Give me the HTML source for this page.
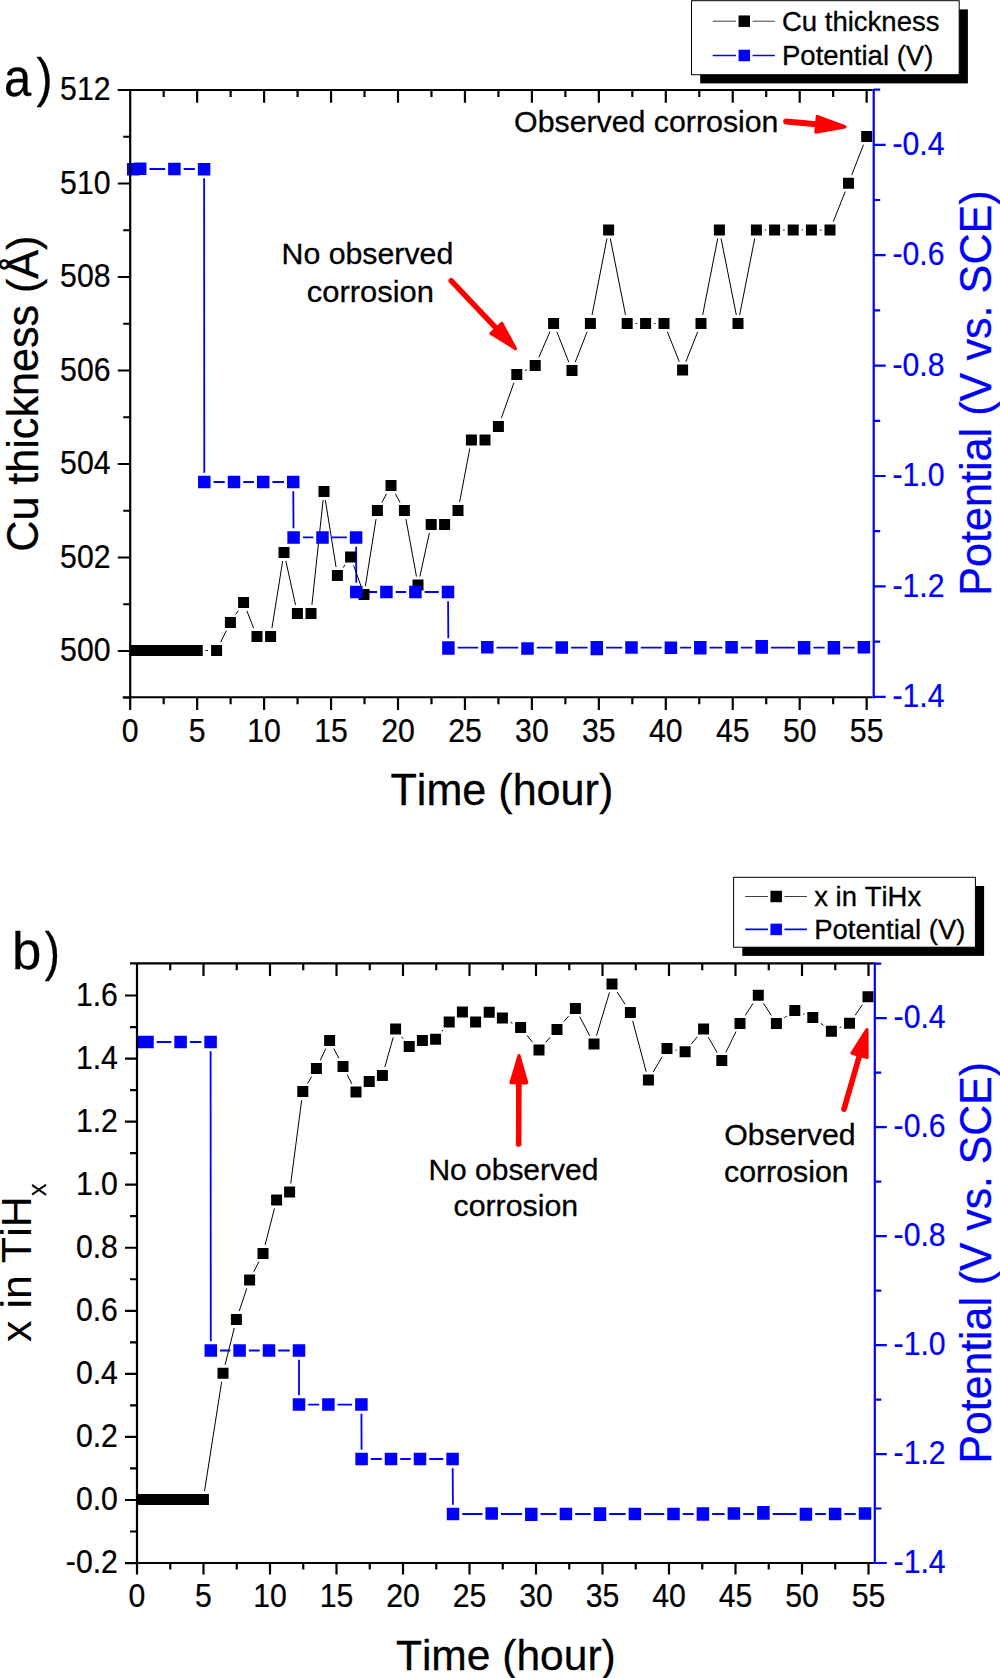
<!DOCTYPE html>
<html><head><meta charset="utf-8"><title>Figure</title>
<style>html,body{margin:0;padding:0;background:#fff;}svg{display:block;}text{font-family:"Liberation Sans", Arial, sans-serif;font-kerning:none;}</style>
</head><body>
<svg width="1000" height="1678" viewBox="0 0 1000 1678">
<rect width="1000" height="1678" fill="#fff"/>
<path d="M149.45 169L165.15 169M183.65 169L194.85 169M204.11 178.25L204.29 472.75M213.55 482L224.75 482M243.25 482L253.95 482M272.45 482L283.95 482M293.27 491.25L293.53 528.15M302.85 537.4L313.25 537.4M331.75 537.4L346.85 537.4M356.13 546.65L356.27 582.75M365.55 592L377.15 592M395.65 592L406.15 592M424.65 592L438.75 592M448.07 601.25L448.33 638.35M457.65 647.6L478.05 647.6M496.55 647.6L518.25 647.6M536.75 647.6L552.55 647.6M571.05 647.6L587.55 647.6M606.05 647.6L622.25 647.6M640.75 647.6L661.65 647.6M680.15 647.6L691.05 647.6M709.55 647.6L722.35 647.6M740.85 647.6L752.45 647.6M770.95 647.6L794.85 647.6M813.35 647.6L824.65 647.6M843.15 647.6L854.65 647.6" stroke="#0000ff" stroke-width="1.8" fill="none"/>
<path d="M205.5 650.46L208.1 650.44M220.64 642.21L226.36 630.59M235.73 614.4L238.27 610.6M246.87 610.89L253.73 628.31M271.95 628.14L282.65 561.06M285.86 561.03L295.54 604.97M311.91 604.92L323.09 500.08M325.35 500.06L336.05 567.14M343.04 567.65L344.96 564.95M353.57 565.33L361.03 586.27M365.35 586.14L376.05 519.06M381.83 502.46L386.57 493.74M395.37 493.74L400.03 502.46M405.94 519.05L416.46 576.55M419.84 576.57L429.36 533.03M459.6 502.15L469.8 448.45M501.36 418.07L513.84 382.93M524.99 370.59L527.01 369.61M538.8 357.35L550 331.65M556.85 331.69L568.75 362.11M575.25 362.11L587.15 331.69M592.05 314.96L606.95 238.44M610.28 238.44L625.52 314.96M635.7 323.4L637.1 323.4M654.1 323.4L655.5 323.4M667.31 331.69L679.29 361.71M685.87 361.71L697.73 331.69M702.66 314.96L717.74 238.44M721.08 238.44L736.32 314.96M739.66 314.96L754.74 238.44M764.9 230L766.1 230M783.1 230L784.7 230M801.7 230L802.9 230M819.9 230L821.5 230M833.28 221.71L845.22 191.59M851.72 175L863.48 144.7" stroke="#000" stroke-width="1" fill="none"/>
<rect x="130" y="645" width="72.5" height="11" fill="#000"/>
<path d="M191.5 645h11v11h-11zM211.1 644.9h11v11h-11zM224.9 616.9h11v11h-11zM238.1 597.1h11v11h-11zM251.5 631.1h11v11h-11zM265.1 631.1h11v11h-11zM278.5 547.1h11v11h-11zM291.9 607.9h11v11h-11zM305.5 607.9h11v11h-11zM318.5 486.1h11v11h-11zM331.9 570.1h11v11h-11zM345.1 551.5h11v11h-11zM358.5 589.1h11v11h-11zM371.9 505.1h11v11h-11zM385.5 480.1h11v11h-11zM398.9 505.1h11v11h-11zM412.5 579.5h11v11h-11zM425.7 519.1h11v11h-11zM439.1 519.1h11v11h-11zM452.5 505.1h11v11h-11zM465.9 434.5h11v11h-11zM479.5 434.5h11v11h-11zM492.9 420.9h11v11h-11zM511.3 369.1h11v11h-11zM529.7 360.1h11v11h-11zM548.1 317.9h11v11h-11zM566.5 364.9h11v11h-11zM584.9 317.9h11v11h-11zM603.1 224.5h11v11h-11zM621.7 317.9h11v11h-11zM640.1 317.9h11v11h-11zM658.5 317.9h11v11h-11zM677.1 364.5h11v11h-11zM695.5 317.9h11v11h-11zM713.9 224.5h11v11h-11zM732.5 317.9h11v11h-11zM750.9 224.5h11v11h-11zM769.1 224.5h11v11h-11zM787.7 224.5h11v11h-11zM805.9 224.5h11v11h-11zM824.5 224.5h11v11h-11zM843 177.8h11v11h-11zM861.2 130.9h11v11h-11z" fill="#000"/>
<path d="M126.95 162.95h12.5v12.5h-12.5zM133.95 162.55h12.5v12.5h-12.5zM168.15 162.75h12.5v12.5h-12.5zM197.85 162.95h12.5v12.5h-12.5zM198.05 475.75h12.5v12.5h-12.5zM227.75 475.75h12.5v12.5h-12.5zM256.95 475.75h12.5v12.5h-12.5zM286.95 475.75h12.5v12.5h-12.5zM287.35 531.15h12.5v12.5h-12.5zM316.25 531.15h12.5v12.5h-12.5zM349.85 531.15h12.5v12.5h-12.5zM350.05 585.75h12.5v12.5h-12.5zM380.15 585.75h12.5v12.5h-12.5zM409.15 585.75h12.5v12.5h-12.5zM441.75 585.75h12.5v12.5h-12.5zM442.15 641.35h12.5v12.5h-12.5zM442.15 642.35h12.5v12.5h-12.5zM481.05 641.05h12.5v12.5h-12.5zM521.25 642.25h12.5v12.5h-12.5zM555.55 641.25h12.5v12.5h-12.5zM590.55 641h12.5v12.5h-12.5zM590.55 642.8h12.5v12.5h-12.5zM625.25 641.25h12.5v12.5h-12.5zM664.65 641.55h12.5v12.5h-12.5zM694.05 641h12.5v12.5h-12.5zM694.05 642.1h12.5v12.5h-12.5zM725.35 641.1h12.5v12.5h-12.5zM755.45 639.9h12.5v12.5h-12.5zM755.45 641.2h12.5v12.5h-12.5zM797.85 641h12.5v12.5h-12.5zM797.85 642.1h12.5v12.5h-12.5zM827.65 641h12.5v12.5h-12.5zM827.65 642.1h12.5v12.5h-12.5zM857.65 641.1h12.5v12.5h-12.5z" fill="#0000ff"/>
<path d="M130.2 89V698.25M122.7 697.25H872.7M117.7 90H872.7M130.2 697.25V710.05M130.2 90V102.8M163.67 697.25V704.25M163.67 90V97M197.15 697.25V710.05M197.15 90V102.8M230.62 697.25V704.25M230.62 90V97M264.1 697.25V710.05M264.1 90V102.8M297.57 697.25V704.25M297.57 90V97M331.05 697.25V710.05M331.05 90V102.8M364.52 697.25V704.25M364.52 90V97M398 697.25V710.05M398 90V102.8M431.48 697.25V704.25M431.48 90V97M464.95 697.25V710.05M464.95 90V102.8M498.43 697.25V704.25M498.43 90V97M531.9 697.25V710.05M531.9 90V102.8M565.38 697.25V704.25M565.38 90V97M598.85 697.25V710.05M598.85 90V102.8M632.33 697.25V704.25M632.33 90V97M665.8 697.25V710.05M665.8 90V102.8M699.28 697.25V704.25M699.28 90V97M732.75 697.25V710.05M732.75 90V102.8M766.22 697.25V704.25M766.22 90V97M799.7 697.25V710.05M799.7 90V102.8M833.17 697.25V704.25M833.17 90V97M866.65 697.25V710.05M866.65 90V102.8M123.2 697.75H130.2M117.8 651H130.2M123.2 604.25H130.2M117.8 557.5H130.2M123.2 510.75H130.2M117.8 464H130.2M123.2 417.25H130.2M117.8 370.5H130.2M123.2 323.75H130.2M117.8 277H130.2M123.2 230.25H130.2M117.8 183.5H130.2M123.2 136.75H130.2M117.8 90H130.2" stroke="#000" stroke-width="2.2" fill="none"/>
<path d="M873.7 89V698.25M873.7 89.6H880.2M873.7 144.8H885.7M873.7 200H880.2M873.7 255.2H885.7M873.7 310.4H880.2M873.7 365.6H885.7M873.7 420.8H880.2M873.7 476H885.7M873.7 531.2H880.2M873.7 586.4H885.7M873.7 641.6H880.2M873.7 696.8H885.7" stroke="#0000ff" stroke-width="2.2" fill="none"/>
<text transform="translate(130.2 741.6) scale(0.93 1)" font-size="32.5" text-anchor="middle" fill="#000" stroke="#000" stroke-width="0.25">0</text>
<text transform="translate(197.15 741.6) scale(0.93 1)" font-size="32.5" text-anchor="middle" fill="#000" stroke="#000" stroke-width="0.25">5</text>
<text transform="translate(264.1 741.6) scale(0.93 1)" font-size="32.5" text-anchor="middle" fill="#000" stroke="#000" stroke-width="0.25">10</text>
<text transform="translate(331.05 741.6) scale(0.93 1)" font-size="32.5" text-anchor="middle" fill="#000" stroke="#000" stroke-width="0.25">15</text>
<text transform="translate(398 741.6) scale(0.93 1)" font-size="32.5" text-anchor="middle" fill="#000" stroke="#000" stroke-width="0.25">20</text>
<text transform="translate(464.95 741.6) scale(0.93 1)" font-size="32.5" text-anchor="middle" fill="#000" stroke="#000" stroke-width="0.25">25</text>
<text transform="translate(531.9 741.6) scale(0.93 1)" font-size="32.5" text-anchor="middle" fill="#000" stroke="#000" stroke-width="0.25">30</text>
<text transform="translate(598.85 741.6) scale(0.93 1)" font-size="32.5" text-anchor="middle" fill="#000" stroke="#000" stroke-width="0.25">35</text>
<text transform="translate(665.8 741.6) scale(0.93 1)" font-size="32.5" text-anchor="middle" fill="#000" stroke="#000" stroke-width="0.25">40</text>
<text transform="translate(732.75 741.6) scale(0.93 1)" font-size="32.5" text-anchor="middle" fill="#000" stroke="#000" stroke-width="0.25">45</text>
<text transform="translate(799.7 741.6) scale(0.93 1)" font-size="32.5" text-anchor="middle" fill="#000" stroke="#000" stroke-width="0.25">50</text>
<text transform="translate(866.65 741.6) scale(0.93 1)" font-size="32.5" text-anchor="middle" fill="#000" stroke="#000" stroke-width="0.25">55</text>
<text transform="translate(110.5 661.2) scale(0.93 1)" font-size="32.5" text-anchor="end" fill="#000" stroke="#000" stroke-width="0.25">500</text>
<text transform="translate(110.5 567.7) scale(0.93 1)" font-size="32.5" text-anchor="end" fill="#000" stroke="#000" stroke-width="0.25">502</text>
<text transform="translate(110.5 474.2) scale(0.93 1)" font-size="32.5" text-anchor="end" fill="#000" stroke="#000" stroke-width="0.25">504</text>
<text transform="translate(110.5 380.7) scale(0.93 1)" font-size="32.5" text-anchor="end" fill="#000" stroke="#000" stroke-width="0.25">506</text>
<text transform="translate(110.5 287.2) scale(0.93 1)" font-size="32.5" text-anchor="end" fill="#000" stroke="#000" stroke-width="0.25">508</text>
<text transform="translate(110.5 193.7) scale(0.93 1)" font-size="32.5" text-anchor="end" fill="#000" stroke="#000" stroke-width="0.25">510</text>
<text transform="translate(110.5 100.2) scale(0.93 1)" font-size="32.5" text-anchor="end" fill="#000" stroke="#000" stroke-width="0.25">512</text>
<text transform="translate(892.4 155) scale(0.93 1)" font-size="32.5" text-anchor="start" fill="#0000ff" stroke="#0000ff" stroke-width="0.25">-0.4</text>
<text transform="translate(892.4 265.4) scale(0.93 1)" font-size="32.5" text-anchor="start" fill="#0000ff" stroke="#0000ff" stroke-width="0.25">-0.6</text>
<text transform="translate(892.4 375.8) scale(0.93 1)" font-size="32.5" text-anchor="start" fill="#0000ff" stroke="#0000ff" stroke-width="0.25">-0.8</text>
<text transform="translate(892.4 486.2) scale(0.93 1)" font-size="32.5" text-anchor="start" fill="#0000ff" stroke="#0000ff" stroke-width="0.25">-1.0</text>
<text transform="translate(892.4 596.6) scale(0.93 1)" font-size="32.5" text-anchor="start" fill="#0000ff" stroke="#0000ff" stroke-width="0.25">-1.2</text>
<text transform="translate(892.4 707) scale(0.93 1)" font-size="32.5" text-anchor="start" fill="#0000ff" stroke="#0000ff" stroke-width="0.25">-1.4</text>
<text transform="translate(281.5 263.8) scale(1 1)" font-size="30.3" text-anchor="start" fill="#000" stroke="#000" stroke-width="0.3">No observed</text>
<text transform="translate(306.8 301.5) scale(1.02 1)" font-size="30.3" text-anchor="start" fill="#000" stroke="#000" stroke-width="0.3">corrosion</text>
<text transform="translate(514.1 131.8) scale(1 1)" font-size="30.3" text-anchor="start" fill="#000" stroke="#000" stroke-width="0.3">Observed corrosion</text>
<path d="M451.3 280.8L498 330.15" stroke="#ff0000" stroke-width="5.6" stroke-linecap="round" fill="none"/><path d="M515.4 348.54L490.97 333.51L501.74 323.31z" fill="#ff0000" stroke="#ff0000" stroke-width="3.2" stroke-linejoin="round"/>
<path d="M786.2 121.6L818.99 124.54" stroke="#ff0000" stroke-width="6" stroke-linecap="round" fill="none"/><path d="M844.91 126.86L815.89 132.19L817.3 116.46z" fill="#ff0000" stroke="#ff0000" stroke-width="3.2" stroke-linejoin="round"/>
<text transform="translate(37.5 393.65) rotate(-90) scale(0.98 1)" font-size="44" text-anchor="middle" fill="#000" stroke="#000" stroke-width="0.3">Cu thickness (Å)</text>
<text transform="translate(990.8 393.05) rotate(-90) scale(0.96 1)" font-size="45" text-anchor="middle" fill="#0000ff" stroke="#0000ff" stroke-width="0.3">Potential (V vs. SCE)</text>
<text transform="translate(501.9 805.2) scale(0.98 1)" font-size="44" text-anchor="middle" fill="#000" stroke="#000" stroke-width="0.3">Time (hour)</text>
<text transform="translate(3.92 95.69) scale(0.93 1)" font-size="52.57" text-anchor="start" fill="#000" stroke="#000" stroke-width="0.3">a</text>
<text transform="translate(36.42 95.68) scale(0.91 1)" font-size="53.24" text-anchor="start" fill="#000" stroke="#000" stroke-width="0.3">)</text>
<rect x="700.2" y="9.4" width="267.7" height="74" fill="#000"/>
<rect x="691.5" y="0.7" width="267.7" height="74" fill="#fff" stroke="#000" stroke-width="1"/>
<path d="M712.7 21.2H736M752.6 21.2H774.8" stroke="#000" stroke-width="1" opacity="0.75"/>
<path d="M712.7 55.5H736M752.6 55.5H774.8" stroke="#0000ff" stroke-width="1.6"/>
<path d="M738.55 15.45h11.5v11.5h-11.5z" fill="#000"/>
<path d="M738.55 49.75h11.5v11.5h-11.5z" fill="#0000ff"/>
<text transform="translate(782 30.5)" font-size="27.5" text-anchor="start" fill="#000" stroke="#000" stroke-width="0.3">Cu thickness</text>
<text transform="translate(782 64.6)" font-size="27.5" text-anchor="start" fill="#000" stroke="#000" stroke-width="0.3">Potential (V)</text>
<path d="M156.75 1042L171.35 1042M189.85 1042L201.35 1042M210.61 1051.25L210.79 1341.25M220.05 1350.5L230.35 1350.5M248.85 1350.5L259.75 1350.5M278.25 1350.5L289.75 1350.5M299 1359.75L299 1395.35M308.25 1404.6L319.15 1404.6M337.65 1404.6L352.15 1404.6M361.43 1413.85L361.57 1449.75M370.85 1459L381.75 1459M400.25 1459L410.75 1459M429.25 1459L443.35 1459M452.67 1468.25L452.93 1504.75M462.25 1514L482.45 1514M500.95 1514L522.05 1514M540.55 1514L556.65 1514M575.15 1514L590.75 1514M609.25 1514L625.65 1514M644.15 1514L664.25 1514M682.75 1514L693.65 1514M712.15 1514L724.65 1514M743.15 1514L754.15 1514M772.65 1514L796.65 1514M815.15 1514L825.85 1514M844.35 1514L855.75 1514" stroke="#0000ff" stroke-width="1.8" fill="none"/>
<path d="M204.53 1491.04L221.67 1381.66M225.09 1364.79L234.31 1327.81M239.2 1311.06L246.8 1288.34M253.72 1271.82L258.88 1261.58M265.14 1244.99L274.46 1208.41M290.71 1183.53L301.69 1100.07M307.58 1083.52L311.62 1076.68M320.25 1060.38L325.75 1048.62M333.81 1048.57L338.79 1058.23M347.15 1074.57L351.85 1083.83M384.78 1067.21L393.22 1037.39M401.75 1036.86L403.05 1038.54M441.81 1031.35L442.99 1029.85M510.55 1022.3L512.45 1023.3M527.02 1035.42L532.58 1042.18M545.78 1042.24L550.22 1037.16M563.8 1021.64L568.6 1016.16M579.66 1016.56L589.74 1035.84M596.51 1035.63L609.49 992.37M617.19 992.02L625.21 1004.38M632.64 1020.8L646.16 1071.6M653.19 1071.92L662.21 1056.68M675.46 1050.05L676.64 1050.25M691.48 1043.87L697.22 1036.83M708.26 1037.1L717.14 1052.5M725.81 1052.41L735.99 1031.59M745.22 1015.39L753.08 1003.31M763.47 1003.32L771.23 1015.38M784.35 1017.78L786.85 1016.02M803.09 1013.71L804.51 1014.29M820.72 1023.39L823.48 1025.41M839.65 1027.6L841.25 1026.9M855.06 1015.34L862.44 1004.76" stroke="#000" stroke-width="1" fill="none"/>
<rect x="137" y="1494" width="71.75" height="11" fill="#000"/>
<path d="M197.7 1494h11v11h-11zM217.5 1367.7h11v11h-11zM230.9 1313.9h11v11h-11zM244.1 1274.5h11v11h-11zM257.5 1247.9h11v11h-11zM271.1 1194.5h11v11h-11zM284.1 1186.5h11v11h-11zM297.3 1086.1h11v11h-11zM310.9 1063.1h11v11h-11zM324.1 1034.9h11v11h-11zM337.5 1060.9h11v11h-11zM350.5 1086.5h11v11h-11zM363.7 1076.1h11v11h-11zM376.9 1070.1h11v11h-11zM390.1 1023.5h11v11h-11zM403.7 1040.9h11v11h-11zM416.9 1034.9h11v11h-11zM430.1 1033.7h11v11h-11zM443.7 1016.5h11v11h-11zM456.9 1006.5h11v11h-11zM470.1 1016.5h11v11h-11zM483.7 1006.7h11v11h-11zM496.9 1012.5h11v11h-11zM515.1 1022.1h11v11h-11zM533.5 1044.5h11v11h-11zM551.5 1023.9h11v11h-11zM569.9 1002.9h11v11h-11zM588.5 1038.5h11v11h-11zM606.5 978.5h11v11h-11zM624.9 1006.9h11v11h-11zM642.9 1074.5h11v11h-11zM661.5 1043.1h11v11h-11zM679.6 1046.2h11v11h-11zM698.1 1023.5h11v11h-11zM716.3 1055.1h11v11h-11zM734.5 1017.9h11v11h-11zM752.8 989.8h11v11h-11zM770.9 1017.9h11v11h-11zM789.3 1004.9h11v11h-11zM807.3 1012.1h11v11h-11zM825.9 1025.7h11v11h-11zM844 1017.8h11v11h-11zM862.5 991.3h11v11h-11z" fill="#000"/>
<path d="M137.55 1035.75h12.5v12.5h-12.5zM141.25 1035.75h12.5v12.5h-12.5zM174.35 1035.75h12.5v12.5h-12.5zM204.35 1035.75h12.5v12.5h-12.5zM204.55 1344.25h12.5v12.5h-12.5zM233.35 1344.25h12.5v12.5h-12.5zM262.75 1344.25h12.5v12.5h-12.5zM292.75 1344.25h12.5v12.5h-12.5zM292.75 1398.35h12.5v12.5h-12.5zM322.15 1398.35h12.5v12.5h-12.5zM355.15 1398.35h12.5v12.5h-12.5zM355.35 1452.75h12.5v12.5h-12.5zM384.75 1452.75h12.5v12.5h-12.5zM413.75 1452.75h12.5v12.5h-12.5zM446.35 1452.75h12.5v12.5h-12.5zM446.75 1507.75h12.5v12.5h-12.5zM485.45 1507.25h12.5v12.5h-12.5zM525.05 1507.75h12.5v12.5h-12.5zM525.05 1508.55h12.5v12.5h-12.5zM559.65 1507.75h12.5v12.5h-12.5zM593.75 1507.25h12.5v12.5h-12.5zM593.75 1508.55h12.5v12.5h-12.5zM628.65 1507.75h12.5v12.5h-12.5zM667.25 1507.75h12.5v12.5h-12.5zM696.65 1507.25h12.5v12.5h-12.5zM696.65 1508.35h12.5v12.5h-12.5zM727.65 1507.25h12.5v12.5h-12.5zM757.15 1505.95h12.5v12.5h-12.5zM757.15 1507.35h12.5v12.5h-12.5zM799.65 1507.75h12.5v12.5h-12.5zM799.65 1508.35h12.5v12.5h-12.5zM828.85 1507.75h12.5v12.5h-12.5zM858.75 1507.25h12.5v12.5h-12.5z" fill="#0000ff"/>
<path d="M137 962.3V1564M129.5 1563H873.8M130 963.3H873.8M137 1563V1574.6M137 963.3V976.1M170.25 1563V1569.5M170.25 963.3V970.3M203.5 1563V1574.6M203.5 963.3V976.1M236.75 1563V1569.5M236.75 963.3V970.3M270 1563V1574.6M270 963.3V976.1M303.25 1563V1569.5M303.25 963.3V970.3M336.5 1563V1574.6M336.5 963.3V976.1M369.75 1563V1569.5M369.75 963.3V970.3M403 1563V1574.6M403 963.3V976.1M436.25 1563V1569.5M436.25 963.3V970.3M469.5 1563V1574.6M469.5 963.3V976.1M502.75 1563V1569.5M502.75 963.3V970.3M536 1563V1574.6M536 963.3V976.1M569.25 1563V1569.5M569.25 963.3V970.3M602.5 1563V1574.6M602.5 963.3V976.1M635.75 1563V1569.5M635.75 963.3V970.3M669 1563V1574.6M669 963.3V976.1M702.25 1563V1569.5M702.25 963.3V970.3M735.5 1563V1574.6M735.5 963.3V976.1M768.75 1563V1569.5M768.75 963.3V970.3M802 1563V1574.6M802 963.3V976.1M835.25 1563V1569.5M835.25 963.3V970.3M868.5 1563V1574.6M868.5 963.3V976.1M125 1563.04H137M130 1531.51H137M125 1499.98H137M130 1468.45H137M125 1436.92H137M130 1405.39H137M125 1373.86H137M130 1342.33H137M125 1310.8H137M130 1279.27H137M125 1247.74H137M130 1216.21H137M125 1184.68H137M130 1153.15H137M125 1121.62H137M130 1090.09H137M125 1058.56H137M130 1027.03H137M125 995.5H137" stroke="#000" stroke-width="2.2" fill="none"/>
<path d="M874.8 962.3V1564M874.8 963.72H881.3M874.8 1018.2H886.8M874.8 1072.68H881.3M874.8 1127.16H886.8M874.8 1181.64H881.3M874.8 1236.12H886.8M874.8 1290.6H881.3M874.8 1345.08H886.8M874.8 1399.56H881.3M874.8 1454.04H886.8M874.8 1508.52H881.3M874.8 1563H886.8" stroke="#0000ff" stroke-width="2.2" fill="none"/>
<text transform="translate(137 1607) scale(0.93 1)" font-size="32.5" text-anchor="middle" fill="#000" stroke="#000" stroke-width="0.25">0</text>
<text transform="translate(203.5 1607) scale(0.93 1)" font-size="32.5" text-anchor="middle" fill="#000" stroke="#000" stroke-width="0.25">5</text>
<text transform="translate(270 1607) scale(0.93 1)" font-size="32.5" text-anchor="middle" fill="#000" stroke="#000" stroke-width="0.25">10</text>
<text transform="translate(336.5 1607) scale(0.93 1)" font-size="32.5" text-anchor="middle" fill="#000" stroke="#000" stroke-width="0.25">15</text>
<text transform="translate(403 1607) scale(0.93 1)" font-size="32.5" text-anchor="middle" fill="#000" stroke="#000" stroke-width="0.25">20</text>
<text transform="translate(469.5 1607) scale(0.93 1)" font-size="32.5" text-anchor="middle" fill="#000" stroke="#000" stroke-width="0.25">25</text>
<text transform="translate(536 1607) scale(0.93 1)" font-size="32.5" text-anchor="middle" fill="#000" stroke="#000" stroke-width="0.25">30</text>
<text transform="translate(602.5 1607) scale(0.93 1)" font-size="32.5" text-anchor="middle" fill="#000" stroke="#000" stroke-width="0.25">35</text>
<text transform="translate(669 1607) scale(0.93 1)" font-size="32.5" text-anchor="middle" fill="#000" stroke="#000" stroke-width="0.25">40</text>
<text transform="translate(735.5 1607) scale(0.93 1)" font-size="32.5" text-anchor="middle" fill="#000" stroke="#000" stroke-width="0.25">45</text>
<text transform="translate(802 1607) scale(0.93 1)" font-size="32.5" text-anchor="middle" fill="#000" stroke="#000" stroke-width="0.25">50</text>
<text transform="translate(868.5 1607) scale(0.93 1)" font-size="32.5" text-anchor="middle" fill="#000" stroke="#000" stroke-width="0.25">55</text>
<text transform="translate(117.9 1573.24) scale(0.93 1)" font-size="32.5" text-anchor="end" fill="#000" stroke="#000" stroke-width="0.25">-0.2</text>
<text transform="translate(117.9 1510.18) scale(0.93 1)" font-size="32.5" text-anchor="end" fill="#000" stroke="#000" stroke-width="0.25">0.0</text>
<text transform="translate(117.9 1447.12) scale(0.93 1)" font-size="32.5" text-anchor="end" fill="#000" stroke="#000" stroke-width="0.25">0.2</text>
<text transform="translate(117.9 1384.06) scale(0.93 1)" font-size="32.5" text-anchor="end" fill="#000" stroke="#000" stroke-width="0.25">0.4</text>
<text transform="translate(117.9 1321) scale(0.93 1)" font-size="32.5" text-anchor="end" fill="#000" stroke="#000" stroke-width="0.25">0.6</text>
<text transform="translate(117.9 1257.94) scale(0.93 1)" font-size="32.5" text-anchor="end" fill="#000" stroke="#000" stroke-width="0.25">0.8</text>
<text transform="translate(117.9 1194.88) scale(0.93 1)" font-size="32.5" text-anchor="end" fill="#000" stroke="#000" stroke-width="0.25">1.0</text>
<text transform="translate(117.9 1131.82) scale(0.93 1)" font-size="32.5" text-anchor="end" fill="#000" stroke="#000" stroke-width="0.25">1.2</text>
<text transform="translate(117.9 1068.76) scale(0.93 1)" font-size="32.5" text-anchor="end" fill="#000" stroke="#000" stroke-width="0.25">1.4</text>
<text transform="translate(117.9 1005.7) scale(0.93 1)" font-size="32.5" text-anchor="end" fill="#000" stroke="#000" stroke-width="0.25">1.6</text>
<text transform="translate(893.6 1028.4) scale(0.93 1)" font-size="32.5" text-anchor="start" fill="#0000ff" stroke="#0000ff" stroke-width="0.25">-0.4</text>
<text transform="translate(893.6 1137.36) scale(0.93 1)" font-size="32.5" text-anchor="start" fill="#0000ff" stroke="#0000ff" stroke-width="0.25">-0.6</text>
<text transform="translate(893.6 1246.32) scale(0.93 1)" font-size="32.5" text-anchor="start" fill="#0000ff" stroke="#0000ff" stroke-width="0.25">-0.8</text>
<text transform="translate(893.6 1355.28) scale(0.93 1)" font-size="32.5" text-anchor="start" fill="#0000ff" stroke="#0000ff" stroke-width="0.25">-1.0</text>
<text transform="translate(893.6 1464.24) scale(0.93 1)" font-size="32.5" text-anchor="start" fill="#0000ff" stroke="#0000ff" stroke-width="0.25">-1.2</text>
<text transform="translate(893.6 1573.2) scale(0.93 1)" font-size="32.5" text-anchor="start" fill="#0000ff" stroke="#0000ff" stroke-width="0.25">-1.4</text>
<text transform="translate(428.4 1180) scale(0.99 1)" font-size="30.3" text-anchor="start" fill="#000" stroke="#000" stroke-width="0.3">No observed</text>
<text transform="translate(453.5 1216.4) scale(1 1)" font-size="30.3" text-anchor="start" fill="#000" stroke="#000" stroke-width="0.3">corrosion</text>
<text transform="translate(724.3 1144.7) scale(1 1)" font-size="30.3" text-anchor="start" fill="#000" stroke="#000" stroke-width="0.3">Observed</text>
<text transform="translate(724 1181.6)" font-size="30.3" text-anchor="start" fill="#000" stroke="#000" stroke-width="0.3">corrosion</text>
<path d="M518.6 1144L518.88 1080.35" stroke="#ff0000" stroke-width="5.6" stroke-linecap="round" fill="none"/><path d="M518.99 1055.6L526.74 1082.79L511 1082.72z" fill="#ff0000" stroke="#ff0000" stroke-width="3.2" stroke-linejoin="round"/>
<path d="M844 1109.1L860.2 1053.01" stroke="#ff0000" stroke-width="5.6" stroke-linecap="round" fill="none"/><path d="M866.96 1029.64L867.09 1057.5L851.98 1053.13z" fill="#ff0000" stroke="#ff0000" stroke-width="3.2" stroke-linejoin="round"/>
<text transform="translate(30.7,1342) rotate(-90)" font-size="43" fill="#000">x in TiH<tspan font-size="26" dy="15">x</tspan></text>
<text transform="translate(991 1262.75) rotate(-90) scale(0.95 1)" font-size="45" text-anchor="middle" fill="#0000ff" stroke="#0000ff" stroke-width="0.3">Potential (V vs. SCE)</text>
<text transform="translate(505.85 1669.6) scale(0.99 1)" font-size="43" text-anchor="middle" fill="#000" stroke="#000" stroke-width="0.3">Time (hour)</text>
<text transform="translate(12.1 969.2) scale(1.03 1)" font-size="51.2" text-anchor="start" fill="#000" stroke="#000" stroke-width="0.3">b</text>
<text transform="translate(44.83 969.57) scale(0.86 1)" font-size="52.81" text-anchor="start" fill="#000" stroke="#000" stroke-width="0.3">)</text>
<rect x="742.3" y="886" width="241.8" height="69.9" fill="#000"/>
<rect x="733.6" y="877.3" width="241.8" height="69.9" fill="#fff" stroke="#000" stroke-width="1"/>
<path d="M745.3 896.5H767.9M784.5 896.5H806.9" stroke="#000" stroke-width="1" opacity="0.75"/>
<path d="M745.3 929.4H767.9M784.5 929.4H806.9" stroke="#0000ff" stroke-width="1.6"/>
<path d="M770.45 890.75h11.5v11.5h-11.5z" fill="#000"/>
<path d="M770.45 923.65h11.5v11.5h-11.5z" fill="#0000ff"/>
<text transform="translate(814.2 905.5)" font-size="27.5" text-anchor="start" fill="#000" stroke="#000" stroke-width="0.3">x in TiHx</text>
<text transform="translate(814.2 938.8)" font-size="27.5" text-anchor="start" fill="#000" stroke="#000" stroke-width="0.3">Potential (V)</text>
</svg>
</body></html>
